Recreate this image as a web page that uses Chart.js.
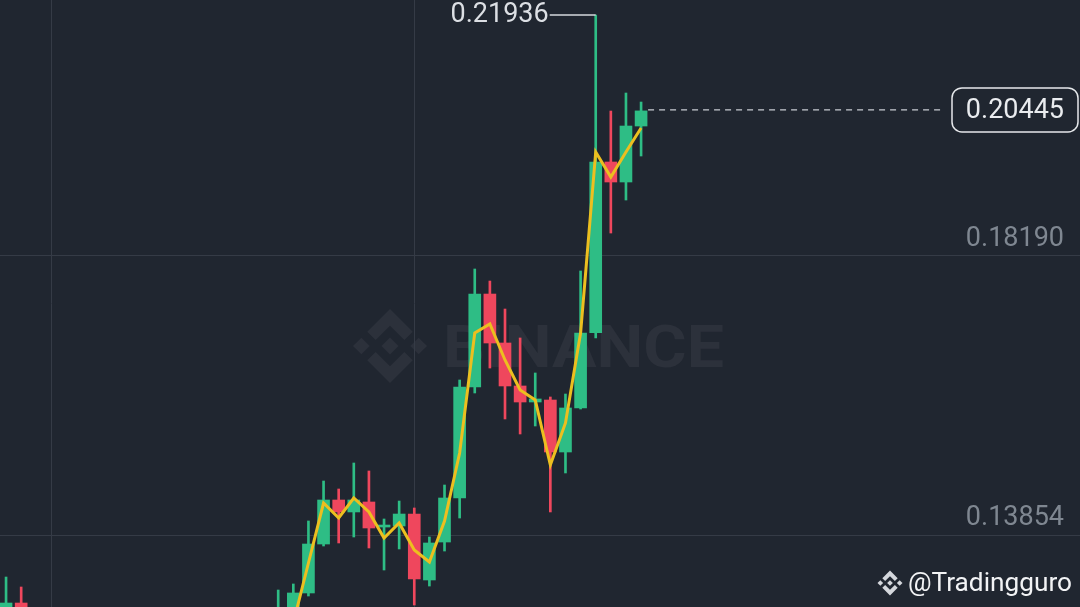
<!DOCTYPE html>
<html>
<head>
<meta charset="utf-8">
<script src="https://cdn.jsdelivr.net/npm/chart.js@4.4.1/dist/chart.umd.min.js"></script>
<style>
  html, body { margin: 0; padding: 0; background: #202630; }
  #wrap { width: 1080px; height: 607px; }
</style>
</head>
<body>
<div id="wrap"><canvas id="myChart"></canvas></div>
<script>
// candle slots (candles 2..17 are below the visible price range)
const slots  = [0, 1, 18, 19, 20, 21, 22, 23, 24, 25, 26, 27, 28, 29, 30, 31, 32, 33, 34, 35, 36, 37, 38, 39, 40, 41, 42];
const openV  = [0.12520, 0.12797, 0.12400, 0.12620, 0.12953, 0.13714, 0.14398, 0.14212, 0.14367, 0.13978, 0.13994, 0.14180, 0.13155, 0.13745, 0.14429, 0.16154, 0.17599, 0.16838, 0.16170, 0.15921, 0.15952, 0.15144, 0.15828, 0.17000, 0.19651, 0.19340, 0.20210];
const highV  = [0.13201, 0.13046, 0.12999, 0.13093, 0.14072, 0.14693, 0.14569, 0.14973, 0.14849, 0.14103, 0.14382, 0.14274, 0.13823, 0.14631, 0.16263, 0.17988, 0.17801, 0.17366, 0.16916, 0.16372, 0.15999, 0.16045, 0.17957, 0.21936, 0.20443, 0.20723, 0.20583];
const lowV   = [0.12450, 0.12500, 0.12320, 0.12550, 0.12906, 0.13683, 0.13730, 0.13823, 0.13652, 0.13310, 0.13637, 0.12766, 0.13061, 0.13605, 0.14118, 0.16061, 0.16449, 0.15657, 0.15424, 0.15548, 0.14212, 0.14818, 0.15812, 0.16916, 0.18547, 0.19060, 0.19744];
const closeV = [0.12797, 0.12600, 0.12620, 0.12953, 0.13714, 0.14398, 0.14212, 0.14398, 0.13963, 0.14009, 0.14180, 0.13170, 0.13730, 0.14429, 0.16154, 0.17599, 0.16838, 0.16170, 0.15921, 0.15968, 0.15144, 0.15828, 0.16993, 0.19651, 0.19340, 0.20210, 0.20445];
const maV    = [null, null, null, 0.12486, 0.13419, 0.14351, 0.14118, 0.14429, 0.14212, 0.13807, 0.14041, 0.13621, 0.13434, 0.14072, 0.15129, 0.16993, 0.17133, 0.16574, 0.16108, 0.15952, 0.14942, 0.15595, 0.16993, 0.19806, 0.19418, 0.19806, 0.20179];
const yTicks = [0.13854, 0.18190];
const xGrid  = [3, 27];

const UP = '#2ebd85', DOWN = '#ef475d', MA = '#ecbf1f';
const candleColors = slots.map((s, i) => closeV[i] >= openV[i] ? UP : DOWN);

// binance logo polygons, 126.6 unit box
const logoPolys = [
  [[38.73,53.2],[63.3,28.64],[87.89,53.22],[102.19,38.92],[63.3,0],[24.42,38.9]],
  [[38.73,73.4],[63.3,97.97],[87.89,73.4],[102.19,87.69],[63.3,126.6],[24.42,87.7]],
  [[0,63.3],[14.3,49],[28.6,63.3],[14.3,77.6]],
  [[98,63.3],[112.3,49],[126.6,63.3],[112.3,77.6]],
  [[63.3,48.76],[77.83,63.3],[63.3,77.83],[48.77,63.3]]
];
function drawLogo(ctx, cx, cy, size, color) {
  const k = size / 126.6;
  ctx.save();
  ctx.translate(cx - 63.3 * k, cy - 63.3 * k);
  ctx.scale(k, k);
  ctx.fillStyle = color;
  logoPolys.forEach(p => {
    ctx.beginPath();
    p.forEach(([x, y], i) => i ? ctx.lineTo(x, y) : ctx.moveTo(x, y));
    ctx.closePath();
    ctx.fill();
  });
  ctx.restore();
}
function fitText(ctx, text, left, base, width) {
  const w = ctx.measureText(text).width;
  ctx.save();
  ctx.translate(left, base);
  ctx.scale(width / w, 1);
  ctx.textAlign = 'left';
  ctx.textBaseline = 'alphabetic';
  ctx.fillText(text, 0, 0);
  ctx.restore();
}

const backdrop = {
  id: 'backdrop',
  beforeDraw(chart) {
    const ctx = chart.ctx;
    ctx.save();
    ctx.fillStyle = '#202630';
    ctx.fillRect(0, 0, chart.width, chart.height);
    drawLogo(ctx, 390, 346, 74, '#2c313b');
    ctx.fillStyle = '#2c313b';
    ctx.font = 'bold 60px Roboto';
    fitText(ctx, 'BINANCE', 443, 367, 281);
    ctx.restore();
  }
};

const marks = {
  id: 'marks',
  afterDatasetsDraw(chart) {
    const ctx = chart.ctx, xs = chart.scales.x, ys = chart.scales.y;
    ctx.save();
    // highest high marker
    let hi = 0;
    highV.forEach((v, i) => { if (v > highV[hi]) hi = i; });
    const hx = xs.getPixelForValue(slots[hi]), hy = ys.getPixelForValue(highV[hi]);
    ctx.strokeStyle = '#d5d8dc';
    ctx.lineWidth = 1.5;
    ctx.beginPath();
    ctx.moveTo(hx - 46, hy);
    ctx.lineTo(hx, hy);
    ctx.stroke();
    ctx.fillStyle = '#dcdfe4';
    ctx.font = '27px Roboto';
    ctx.textAlign = 'right';
    ctx.textBaseline = 'middle';
    ctx.fillText(highV[hi].toFixed(5), hx - 47, hy);

    // last price line + box
    const last = closeV.length - 1;
    const lx = xs.getPixelForValue(slots[last]), ly = ys.getPixelForValue(closeV[last]);
    ctx.strokeStyle = '#c8ccd2';
    ctx.lineWidth = 1.2;
    ctx.setLineDash([6, 5]);
    ctx.beginPath();
    ctx.moveTo(lx + 7, ly - 1);
    ctx.lineTo(944, ly - 1);
    ctx.stroke();
    ctx.setLineDash([]);
    ctx.beginPath();
    ctx.roundRect(952, ly - 23, 126, 44, 10);
    ctx.fillStyle = '#202630';
    ctx.fill();
    ctx.strokeStyle = '#e6e8eb';
    ctx.lineWidth = 1.5;
    ctx.stroke();
    ctx.fillStyle = '#eaecef';
    ctx.font = '27px Roboto';
    ctx.fillText(closeV[last].toFixed(5), 1064, ly);
    ctx.restore();
  },
  afterDraw(chart) {
    const ctx = chart.ctx;
    ctx.save();
    drawLogo(ctx, 890, 583, 25, '#d4d7dc');
    ctx.fillStyle = '#f2f3f5';
    ctx.font = '26px Roboto';
    fitText(ctx, '@Tradingguro', 908, 591, 164);
    ctx.restore();
  }
};

new Chart('myChart', {
  data: {
    datasets: [{
      type: 'line',
      order: 0,
      data: slots.map((s, i) => ({ x: s, y: maV[i] })),
      borderColor: MA,
      borderWidth: 3,
      pointRadius: 0,
      tension: 0
    }, {
      type: 'bar',
      order: 1,
      grouped: false,
      data: slots.map((s, i) => ({ x: s, y: [openV[i], closeV[i]] })),
      backgroundColor: candleColors,
      barThickness: 12,
      borderWidth: 0
    }, {
      type: 'bar',
      order: 2,
      grouped: false,
      data: slots.map((s, i) => ({ x: s, y: [lowV[i], highV[i]] })),
      backgroundColor: candleColors,
      barThickness: 2,
      borderWidth: 0
    }]
  },
  options: {
    responsive: true,
    maintainAspectRatio: false,
    animation: false,
    layout: { padding: 0 },
    plugins: { legend: { display: false }, tooltip: { enabled: false } },
    scales: {
      x: {
        type: 'linear',
        offset: false,
        min: -0.4,
        max: 71.03,
        afterBuildTicks: s => { s.ticks = xGrid.map(v => ({ value: v })); },
        afterFit: s => { s.height = 0; s.paddingLeft = 0; s.paddingRight = 0; },
        grid: { color: '#353b46', drawTicks: false, offset: false },
        border: { display: false },
        ticks: { display: false }
      },
      y: {
        position: 'right',
        min: 0.127351,
        max: 0.221685,
        afterBuildTicks: s => { s.ticks = yTicks.map(v => ({ value: v })); },
        afterFit: s => { s.width = 0; s.paddingTop = 0; s.paddingBottom = 0; },
        grid: { color: '#353b46', drawTicks: false },
        border: { display: false },
        ticks: {
          mirror: true,
          padding: -16,
          labelOffset: -17,
          color: '#7f8791',
          font: { family: 'Roboto', size: 27 },
          callback: v => v.toFixed(5)
        }
      }
    }
  },
  plugins: [backdrop, marks]
});
</script>
</body>
</html>
